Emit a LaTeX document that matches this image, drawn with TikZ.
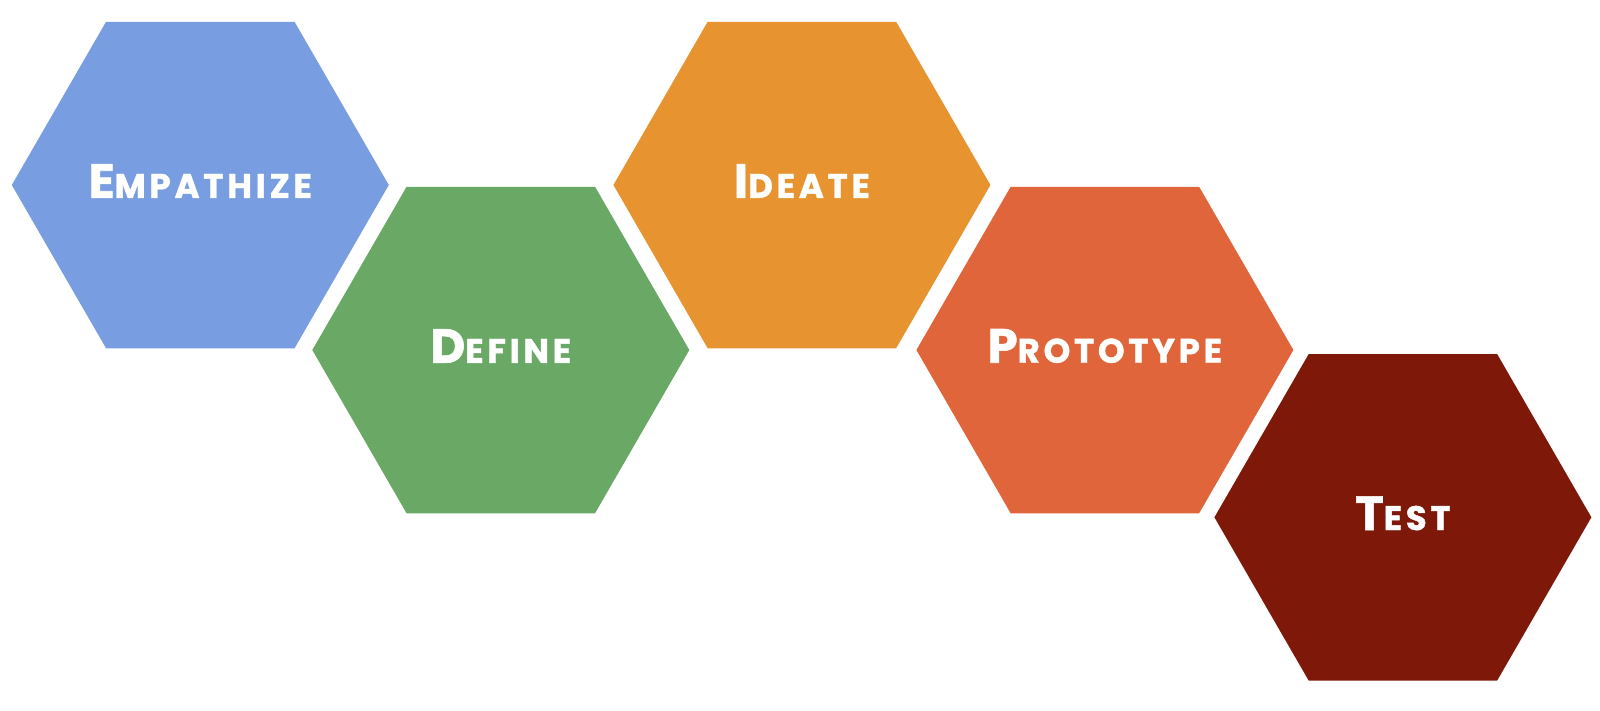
\documentclass[tikz,border=0pt]{standalone}
\usepackage{fontspec}
\setmainfont{Poppins}
\usetikzlibrary{shapes.geometric}
\definecolor{cEmp}{HTML}{789DE0}
\definecolor{cDef}{HTML}{6AA965}
\definecolor{cIde}{HTML}{E69330}
\definecolor{cPro}{HTML}{E0653A}
\definecolor{cTes}{HTML}{7E1809}
\newcommand\fakesc[2]{{\fontsize{48}{48}\selectfont\addfontfeature{LetterSpace=8,FakeBold=1.2}#1}{\fontsize{34}{34}\selectfont\addfontfeature{LetterSpace=11,FakeBold=1.2}#2}}
\tikzset{
  hexa/.style={regular polygon, regular polygon sides=6, minimum size=377pt,
    inner sep=0pt, outer sep=0pt, fill=#1},
  lbl/.style={text=white, font=\bfseries, inner sep=0pt, yshift=4pt}
}
\begin{document}
\begin{tikzpicture}[x=1pt,y=-1pt]
\useasboundingbox (0,0) rectangle (1600,710);
\node[hexa=cEmp] (emp) at (200.3,185) {};
\node[hexa=cDef] (def) at (500.8,350) {};
\node[hexa=cIde] (ide) at (801.9,185) {};
\node[hexa=cPro] (pro) at (1104.9,350) {};
\node[hexa=cTes] (tes) at (1402.9,517.3) {};
\node[lbl] (empt) at (emp.center) {\fakesc{E}{MPATHIZE}};
\node[lbl] (deft) at (def.center) {\fakesc{D}{EFINE}};
\node[lbl] (idet) at (ide.center) {\fakesc{I}{DEATE}};
\node[lbl] (prot) at (pro.center) {\fakesc{P}{ROTOTYPE}};
\node[lbl] (test) at (tes.center) {\fakesc{T}{EST}};
\end{tikzpicture}
\end{document}
